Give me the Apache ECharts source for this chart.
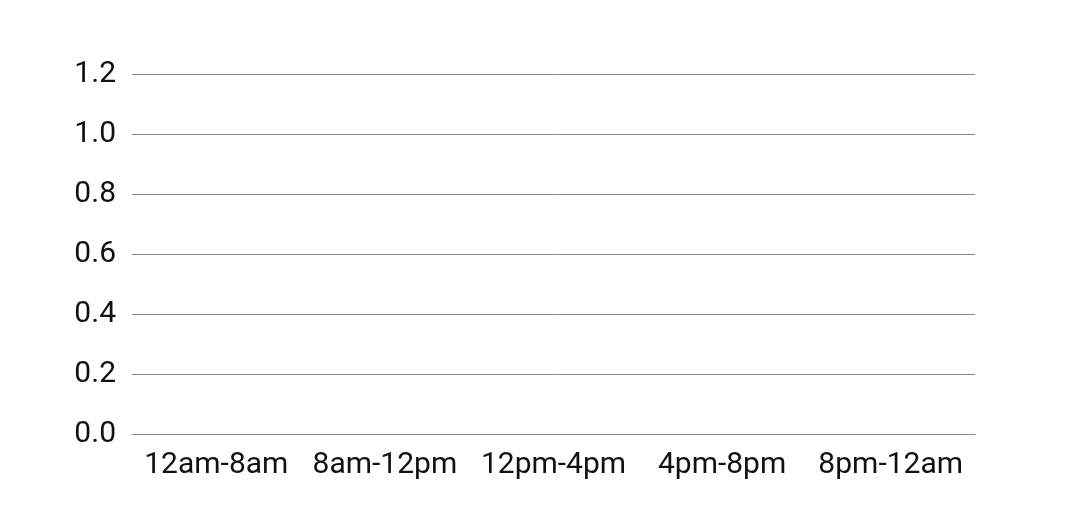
<!DOCTYPE html>
<html><head><meta charset="utf-8">
<script src="https://cdn.jsdelivr.net/npm/echarts@6/dist/echarts.min.js"></script>
<style>html,body{margin:0;padding:0;background:#fff}#c{width:1080px;height:518px}</style>
</head><body><div id="c"></div>
<script>
var categories = ['12am-8am', '8am-12pm', '12pm-4pm', '4pm-8pm', '8pm-12am'];
var values = [0, 0, 0, 0, 0];
var yTicks = { min: 0, max: 1.2, interval: 0.2 };

var chart = echarts.init(document.getElementById('c'));
chart.setOption({
  backgroundColor: '#ffffff',
  animation: false,
  grid: { left: 132, right: 105, top: 74, bottom: 84 },
  xAxis: {
    type: 'category',
    data: categories,
    axisLine: { show: true, lineStyle: { color: '#8a8a8a', width: 1 } },
    axisTick: { show: false },
    axisLabel: { color: '#111', fontFamily: 'Roboto', fontSize: 30, margin: 16, interval: 0 }
  },
  yAxis: {
    type: 'value',
    min: yTicks.min, max: yTicks.max, interval: yTicks.interval,
    axisLine: { show: false },
    axisTick: { show: false },
    splitLine: { lineStyle: { color: '#8a8a8a', width: 1 } },
    axisLabel: { color: '#111', fontFamily: 'Roboto', fontSize: 30, margin: 16,
      formatter: function (v) { return v.toFixed(1); } }
  },
  series: [{ type: 'bar', data: values, itemStyle: { color: '#4472c4' } }]
});
</script></body></html>
